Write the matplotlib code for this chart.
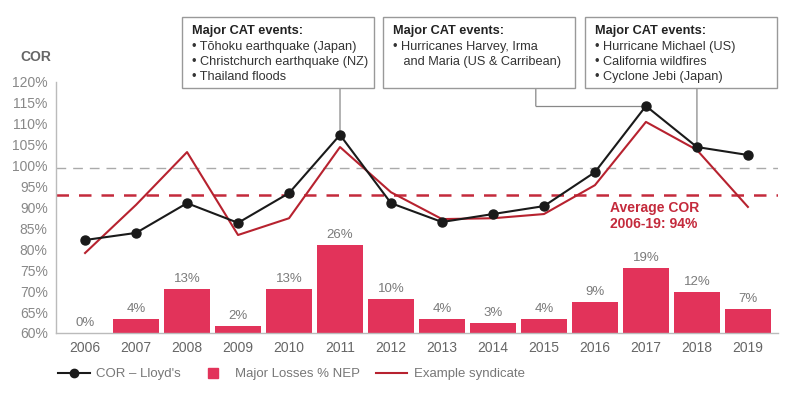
import matplotlib
matplotlib.use("Agg")
import matplotlib.pyplot as plt
from matplotlib.patches import Rectangle, ConnectionPatch
from matplotlib.lines import Line2D
import matplotlib.transforms as mtransforms

plt.rcParams['font.family'] = ['Liberation Sans', 'DejaVu Sans']

years = [2006, 2007, 2008, 2009, 2010, 2011, 2012, 2013, 2014, 2015, 2016, 2017, 2018, 2019]
cor_lloyds = [82.2, 83.9, 91.0, 86.3, 93.4, 107.3, 91.0, 86.5, 88.4, 90.3, 98.4, 114.2, 104.4, 102.5]
example_syndicate = [79.1, 90.6, 103.2, 83.4, 87.4, 104.4, 93.6, 87.2, 87.4, 88.4, 95.3, 110.4, 103.7, 90.1]
major_losses = [0, 4, 13, 2, 13, 26, 10, 4, 3, 4, 9, 19, 12, 7]
y_ticks = [60, 65, 70, 75, 80, 85, 90, 95, 100, 105, 110, 115, 120]
average_cor = 93.0
breakeven = 99.5

BAR = '#E2335A'
RED = '#B7222F'
AVG = '#C42A3C'
GREY_TXT = '#7a7a7a'

W, H = 800, 397
fig = plt.figure(figsize=(8, 3.97), dpi=100)
ax = fig.add_axes([56 / W, 64 / H, (778 - 56) / W, (333 - 81.7) / H])
ax2 = ax.twinx()

ax.set_xlim(2005.43, 2019.59)
ax.set_ylim(60, 120)
ax2.set_ylim(0, 74)
ax.set_zorder(ax2.get_zorder() + 1)
ax.patch.set_visible(False)

ax2.bar(years, major_losses, width=0.9, color=BAR, zorder=2)
for x, v in zip(years, major_losses):
    ax2.text(x, v + 1.2, f"{v}%", ha='center', va='bottom', fontsize=9.5, color=GREY_TXT)

ax.axhline(breakeven, color='#aaaaaa', lw=1, dashes=(7, 5), zorder=1)
ax.axhline(average_cor, color=AVG, lw=1.8, dashes=(5, 4), zorder=1)

ax.plot(years, example_syndicate, color=RED, lw=1.5, zorder=3)
ax.plot(years, cor_lloyds, color='#1a1a1a', lw=1.5, marker='o', ms=6.5, zorder=4)

ax.text(2016.3, 91.4, "Average COR\n2006-19: 94%", color=AVG, fontsize=10, fontweight='bold',
        ha='left', va='top', linespacing=1.15)

ax.set_yticks(y_ticks)
ax.set_yticklabels([f"{t}%" for t in y_ticks], fontsize=10, color='#888888')
ax.set_xticks(years)
ax.set_xticklabels([str(y) for y in years], fontsize=10, color='#666666')
ax.tick_params(axis='both', length=0, pad=6)
ax2.set_yticks([])
for a in (ax, ax2):
    for s in ('top', 'right'):
        a.spines[s].set_visible(False)
    for s in ('left', 'bottom'):
        a.spines[s].set_color('#bbbbbb')
        a.spines[s].set_linewidth(1)
ax2.spines['left'].set_visible(False)
ax2.spines['bottom'].set_visible(False)

fig.text(20 / W, 1 - 57 / H, "COR", fontsize=10, fontweight='bold', color='#666666', va='center')

# annotation boxes
boxes = [
    (182, ["• Tōhoku earthquake (Japan)", "• Christchurch earthquake (NZ)", "• Thailand floods"]),
    (383, ["• Hurricanes Harvey, Irma", "   and Maria (US & Carribean)"]),
    (585, ["• Hurricane Michael (US)", "• California wildfires", "• Cyclone Jebi (Japan)"]),
]
for x0, lines in boxes:
    rect = Rectangle((x0 / W, 1 - 88 / H), 192 / W, 71 / H, transform=fig.transFigure,
                     facecolor='white', edgecolor='#999999', lw=1)
    fig.add_artist(rect)
    fig.text((x0 + 10) / W, 1 - 31 / H, "Major CAT events:", fontsize=9.2, fontweight='bold',
             color='#222222', va='center')
    for i, ln in enumerate(lines):
        fig.text((x0 + 10) / W, 1 - (47 + 15 * i) / H, ln, fontsize=9.2, color='#333333', va='center')

blend = mtransforms.blended_transform_factory(ax.transData, fig.transFigure)
box_bottom = 1 - 88 / H
c1 = ConnectionPatch(xyA=(2011, box_bottom), coordsA=blend, xyB=(2011, cor_lloyds[5]),
                     coordsB=ax.transData, color='#888888', lw=0.9, zorder=0)
fig.add_artist(c1)
xe = 2014.84
c2 = ConnectionPatch(xyA=(xe, box_bottom), coordsA=blend, xyB=(xe, cor_lloyds[11]),
                     coordsB=ax.transData, color='#888888', lw=0.9, zorder=0)
fig.add_artist(c2)
ax.plot([xe, 2017], [cor_lloyds[11], cor_lloyds[11]], color='#888888', lw=0.9, zorder=2, clip_on=False)
c3 = ConnectionPatch(xyA=(2018, box_bottom), coordsA=blend, xyB=(2018, cor_lloyds[12]),
                     coordsB=ax.transData, color='#888888', lw=0.9, zorder=0)
fig.add_artist(c3)

handles = [
    Line2D([], [], color='#1a1a1a', lw=1.5, marker='o', ms=6),
    Line2D([], [], color=BAR, lw=0, marker='s', ms=7),
    Line2D([], [], color=RED, lw=1.5),
]
labels = ["COR – Lloyd's", "Major Losses % NEP", "Example syndicate"]
leg = fig.legend(handles, labels, loc='center left', bbox_to_anchor=(46 / W, 1 - 374 / H), ncol=3,
                 frameon=False, fontsize=9.5, handlelength=2.4, columnspacing=1.2,
                 handletextpad=0.5)
for t in leg.get_texts():
    t.set_color('#777777')

fig.savefig("out.png", dpi=100)
